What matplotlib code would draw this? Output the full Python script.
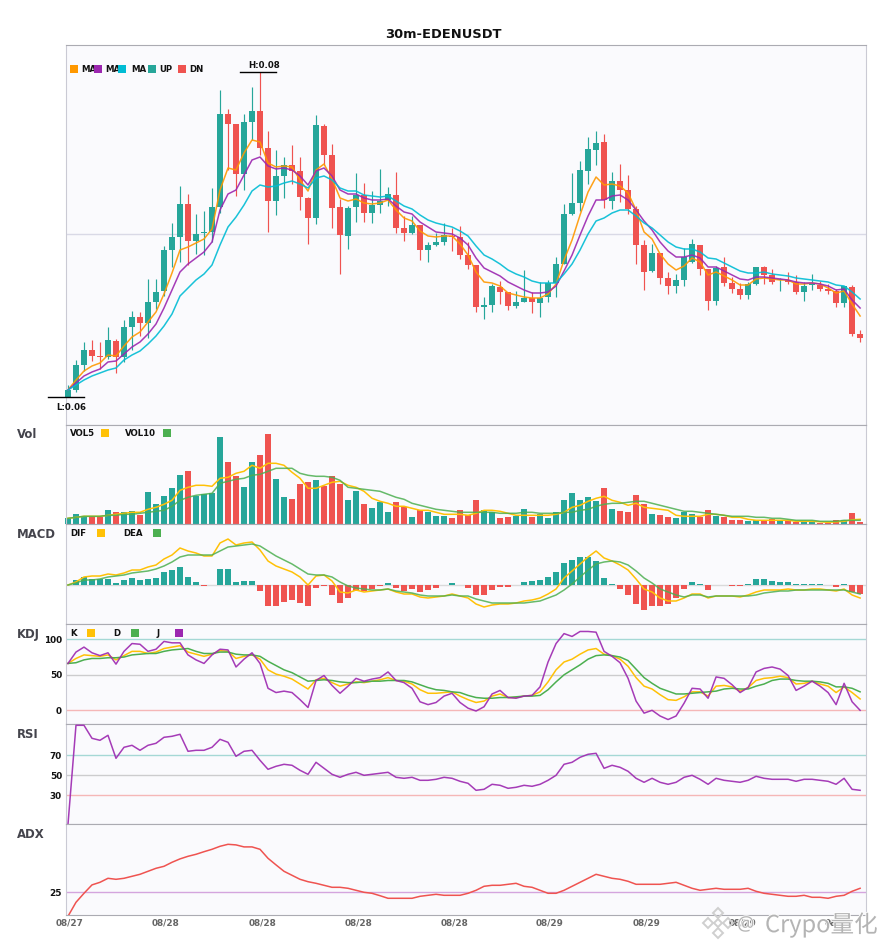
import numpy as np
import matplotlib
matplotlib.use("Agg")
import matplotlib.pyplot as plt
import matplotlib.patheffects as pe
from matplotlib.patches import Rectangle, Polygon

# Candles: the main panel has no price scale, values are relative price levels
opens = [27,34,59,74,68,67,83,67,97,107,101,122,133,174,187,220,183,191,192,217,
         310,300,250,302,313,276,223,248,259,253,226,206,298,269,217,188,217,229,211,219,
         224,229,196,191,199,174,179,182,188,187,169,159,117,119,137,132,118,122,126,121,
         127,141,160,210,221,253,274,282,223,243,234,215,179,153,171,146,138,144,162,179,
         155,123,157,141,135,129,140,157,149,144,144,142,132,139,139,135,133,121,137,90]
highs = [39,64,82,84,82,97,85,104,113,112,145,145,178,201,238,230,210,213,236,334,
         315,300,310,337,352,293,274,267,279,267,227,309,300,280,225,218,251,241,233,255,
         237,252,208,208,199,182,191,201,196,198,182,159,127,140,143,132,133,154,132,142,
         144,167,220,251,263,287,293,290,252,260,249,218,184,180,171,152,150,176,185,179,
         155,158,167,147,141,142,157,158,155,146,152,149,142,150,143,140,135,138,139,94]
lows = [27,32,53,63,55,65,51,62,74,88,86,115,128,157,162,159,170,169,182,211,
        254,228,234,284,269,192,209,226,240,214,180,200,259,196,150,175,202,202,201,211,
        218,191,183,190,164,162,178,179,173,165,155,112,105,112,120,114,116,122,111,107,
        122,127,160,209,213,240,259,216,215,222,210,160,134,152,140,130,131,138,161,149,
        114,119,138,131,125,125,139,140,140,133,140,130,123,134,133,130,117,117,88,82]
closes = [34,59,74,68,67,84,67,97,107,101,122,132,174,187,220,183,190,192,217,310,
          300,250,302,313,276,223,248,259,253,227,206,299,269,216,189,216,229,211,219,223,
          230,196,191,199,174,179,182,189,187,169,159,117,119,138,132,118,122,126,122,126,
          141,160,210,221,254,275,281,224,243,234,215,179,152,171,146,138,144,167,180,155,
          123,156,141,135,129,140,157,149,142,145,142,132,138,140,135,133,121,138,90,86]
ma5 = [34,44,53,58,61,69,68,78,87,92,102,112,130,151,174,177,181,185,195,234,
       256,254,271,284,282,261,257,258,257,244,233,254,260,245,226,223,225,221,220,221,
       224,214,206,203,193,188,187,188,188,180,169,152,142,141,138,131,129,127,126,126,
       130,140,164,184,209,232,247,239,240,238,231,214,192,185,170,160,154,158,166,162,
       149,152,148,144,139,139,145,146,145,144,144,140,140,141,140,136,131,133,120,108]
ma10 = [34,41,48,52,55,62,63,70,77,82,90,100,116,134,152,160,166,172,182,214,
        230,234,249,264,267,258,255,256,254,248,239,253,256,248,234,230,230,226,224,224,
        225,218,212,210,202,197,192,191,190,186,179,166,156,152,148,142,138,134,131,131,
        132,138,153,169,189,208,224,224,228,229,224,214,203,194,182,173,167,167,169,166,
        157,157,153,149,145,144,147,147,146,145,144,142,141,141,140,138,134,135,124,116]
ma20 = [34,39,44,48,51,54,56,64,69,73,80,88,98,110,128,136,144,150,159,179,
        197,207,219,233,239,237,238,241,243,240,236,246,248,244,236,233,233,229,228,227,
        228,223,218,215,209,204,201,199,197,193,188,178,169,165,160,154,150,147,143,141,
        141,141,150,160,174,190,203,206,211,214,214,208,201,196,189,182,177,175,175,172,
        166,165,161,157,153,151,151,152,150,149,148,146,145,144,143,142,139,138,132,125]
price_grid = 190  # the 0.07 level

volume = [6,10,8,7,7,14,12,12,13,9,32,20,28,36,49,53,28,30,31,87,
          62,48,37,62,69,90,45,27,25,40,42,44,38,48,40,24,33,20,16,22,
          12,22,17,7,14,12,8,8,6,14,9,24,14,12,6,7,8,15,7,10,
          6,12,24,31,24,27,23,36,15,13,12,29,20,10,9,7,6,12,10,7,
          14,8,7,4,4,3,4,4,5,3,4,2,2,3,1.5,1.5,4,4,11,2.5]
vol5 = [6,7,8,8,8,9,10,11,12,12,15,17,20,24,34,37,39,39,38,46,
        47,51,53,59,56,61,61,59,52,46,36,36,39,42,43,39,37,33,26,23,
        21,18,18,16,14,14,12,10,10,10,9,11,14,14,13,11,9,9,9,9,
        9,10,12,17,19,23,26,28,24,22,19,21,17,16,15,14,9,8,8,8,
        10,10,9,7,7,5,4,4,4,4,4,3,3,3,2.5,2,2.5,3,4.5,5]
vol10 = [6,7,8,8,8,9,9,10,10,11,12,13,14,18,24,27,29,30,31,41,
         43,45,46,49,50,53,56,56,56,51,49,48,48,47,44,37,36,35,34,33,
         30,27,25,21,19,17,15,14,13,12,12,12,12,12,11,11,11,12,12,11,
         11,11,12,12,14,15,18,20,21,21,22,23,23,21,19,17,15,13,13,12,
         11,10,9,8,8,8,7,7,6,6,5,4,4,4,3,3,3,4,4,4]

macd_hist = [0,5,8,6,6,6,2,5,7,5,6,7,13,15,18,8,3,-0.7,0,16,
             16,3,4,4,-6,-21,-21,-17,-15,-18,-21,-3,-1,-10,-18,-13,-6,-6,-4,-1,
             2,-3,-6,-4,-7,-5,-3,0,2,0,-3,-10,-10,-5,-2,-2,0,3,4,5,
             8,13,22,25,28,28,24,7,1,-4,-10,-19,-25,-21,-21,-19,-13,-4,3,1,
             -5,0,0,-0.8,-0.8,1,6,6,4,3,3,1,1,1,1,0,-2,1,-7,-9]
dif = [0,3,8,9,9,11,10,12,15,15,18,20,26,30,37,34,32,29,29,42,
       46,40,42,43,35,24,19,16,13,8,0,9,10,4,-7,-8,-5,-7,-6,-5,
       -4,-7,-9,-9,-12,-13,-12,-11,-9,-11,-13,-19,-22,-20,-19,-19,-18,-16,-15,-13,
       -9,-4,7,14,21,28,34,27,24,20,15,6,-4,-7,-13,-16,-16,-13,-9,-9,
       -13,-11,-11,-11,-12,-10,-7,-5,-5,-5,-4,-5,-5,-4,-4,-5,-6,-4,-10,-13]
dea = [0,2,5,5,6,8,9,10,12,13,14,16,19,23,28,30,30,30,30,34,
       38,39,40,41,39,34,29,25,21,16,11,10,10,8,3,-1,-3,-4,-5,-5,
       -4,-6,-7,-8,-10,-11,-11,-11,-10,-11,-11,-14,-16,-18,-18,-18,-18,-18,-17,-16,
       -13,-10,-5,1,8,15,21,23,24,23,20,14,7,2,-4,-7,-10,-12,-10,-10,
       -12,-11,-11,-11,-11,-11,-10,-8,-7,-6,-6,-5,-5,-5,-5,-5,-5,-5,-7,-9]

kdj_k = [66,73,78,77,76,78,71,77,83,83,80,82,87,89,91,82,79,76,79,84,
         83,73,76,78,72,57,51,48,44,37,30,43,45,39,34,37,40,39,41,43,
         46,42,41,37,29,24,24,25,26,20,15,11,13,20,23,18,18,20,21,26,
         40,57,68,72,79,85,87,79,77,72,62,46,34,30,22,15,14,19,26,26,
         20,34,35,33,27,32,42,45,46,48,46,37,38,41,37,34,25,33,25,16]
kdj_d = [66,67,71,73,73,74,74,75,78,79,80,80,83,85,86,87,83,80,80,82,
         82,79,78,78,76,69,63,57,53,47,41,42,43,42,40,39,39,40,41,41,
         42,42,42,40,36,32,29,28,26,25,21,18,17,17,18,18,19,20,20,21,
         29,40,50,57,64,72,77,78,77,75,70,58,46,38,31,27,23,23,24,25,
         26,27,30,31,30,30,34,37,42,44,44,42,41,41,40,38,33,33,31,26]
kdj_j = [66,82,89,81,77,81,65,83,94,93,83,86,97,95,95,78,71,66,78,86,
         85,61,72,81,66,31,25,27,25,15,4,42,49,35,24,34,45,41,44,46,
         54,42,39,31,12,8,11,20,24,11,3,-1,5,23,28,18,17,20,21,33,
         68,94,108,104,111,111,110,83,76,67,45,13,-4,0,-8,-13,-8,10,31,30,
         17,47,45,36,25,32,54,59,61,58,49,28,34,41,34,25,8,38,12,0]
rsi = [1,100,100,87,85,90,67,78,80,75,80,82,88,89,91,74,75,75,78,86,
       83,69,74,75,65,56,59,61,60,55,51,63,57,51,48,51,53,50,51,52,
       53,48,47,48,45,45,46,48,47,44,42,35,36,41,40,37,38,40,39,41,
       45,50,61,63,68,71,72,57,60,58,54,47,43,47,43,41,43,48,50,46,
       41,47,45,44,43,45,49,47,46,46,46,44,46,46,45,44,41,47,36,35]
adx = [13,20,24.5,28.7,30,32,31.5,32,33,34,35.5,37,38,40,41.7,43,44,45.3,46.5,48,
       49,48.7,47.7,47.7,46.5,42,38.7,35.5,33.5,31.5,30.3,29.5,28.5,27.5,27.5,27,26,25,24.5,23.3,
       22,22,22,22,23,23.5,24,23.5,23.5,23.5,24.5,26,28,28.5,28.5,29,29.5,28,27.5,26,
       24.5,24.5,26,28,30,32,34,33,32,31.5,30.5,29,29,29,29,29.5,30,28.5,27,26,
       26.5,27,26.5,26.5,26.5,27,25.5,24.5,24,23.5,23,23,23.5,22.5,22.5,22,23,23.5,25.5,27]

tick_every = 12
date_labels = ["08/27", "08/28", "08/28", "08/28", "08/28", "08/29", "08/29", "08/29", "08/29"]

UP = "#26A69A"
DN = "#EF5350"
ORANGE = "#FF9800"
PURPLE = "#9C27B0"
CYAN = "#00BCD4"
YELLOW = "#FFC107"
GREEN = "#4CAF50"
FACE = "#FAFAFD"
LW = 1.1
W, H = 885, 950

fig = plt.figure(figsize=(W / 100, H / 100), dpi=100, facecolor="white")


def make_axes(top, bottom):
    left, right = 65.5, 865.7
    ax = fig.add_axes([left / W, 1 - bottom / H, (right - left) / W, (bottom - top) / H])
    ax.set_facecolor(FACE)
    ax.set_xlim(-0.31, 99.7)
    ax.set_xticks([])
    for side in ("left", "right"):
        ax.spines[side].set_color("#CACAD4")
    for side in ("top", "bottom"):
        ax.spines[side].set_color("#ABABB2")
    ax.tick_params(axis="y", length=0, pad=2.5, labelsize=6.4, labelcolor="#111111")
    return ax


def label_px(x, y, text, **kw):
    kw.setdefault("fontsize", 6.2)
    kw.setdefault("fontweight", "bold")
    kw.setdefault("color", "#111111")
    kw.setdefault("va", "center")
    fig.text(x / W, 1 - y / H, text, zorder=5, **kw)


def swatch_px(x, y, color):
    fig.add_artist(Rectangle((x / W, 1 - (y + 8) / H), 8 / W, 8 / H, color=color,
                             transform=fig.transFigure, zorder=6, lw=0))


def set_levels(ax, levels, colors):
    ax.set_yticks(levels)
    ax.set_yticklabels([str(v) for v in levels], fontweight="bold")
    for level, color in zip(levels, colors):
        ax.axhline(level, color=color, lw=1.0, alpha=0.4, zorder=0)


x = np.arange(len(closes))
o, h, l, c = map(np.array, (opens, highs, lows, closes))
rising = c >= o
bar_colors = np.where(rising, UP, DN)

# main panel
ax_main = make_axes(45, 424.5)
ax_main.set_ylim(-0.5, 379)
ax_main.set_yticks([])
ax_main.axhline(price_grid, color="#D9D9E6", lw=1.0, zorder=0)
ax_main.vlines(x, l, h, colors=bar_colors, lw=0.85, zorder=2)
ax_main.bar(x, np.maximum(np.abs(c - o), 0.8), bottom=np.minimum(o, c), width=0.74,
            color=bar_colors, zorder=3, clip_on=False)
for series, color in ((ma5, ORANGE), (ma10, PURPLE), (ma20, CYAN)):
    ax_main.plot(x, series, color=color, lw=LW, alpha=0.9, zorder=4)

i_high, i_low = int(np.argmax(h)), int(np.argmin(l))
ax_main.plot([i_high - 2.5, i_high + 2], [h[i_high]] * 2, color="black", lw=1.0, clip_on=False, zorder=5)
ax_main.plot([i_low - 2.5, i_low + 2], [l[i_low]] * 2, color="black", lw=1.0, clip_on=False, zorder=5)
label_px(264.5, 65, "H:0.08", ha="center")
label_px(71.5, 407, "L:0.06", ha="center")
fig.text(443 / W, 1 - 34 / H, "30m-EDENUSDT", ha="center", va="center", fontsize=9.4,
         fontweight="bold", color="#111111")

for sx, color in ((70, ORANGE), (94, PURPLE), (118, CYAN), (148, UP), (178, DN)):
    swatch_px(sx, 65, color)
for tx, text in ((81, "MA"), (105, "MA"), (131, "MA"), (159, "UP"), (189, "DN")):
    label_px(tx, 69, text)

# volume
ax_vol = make_axes(424.5, 524.3)
ax_vol.set_ylim(0, 99.8)
ax_vol.set_yticks([])
ax_vol.bar(x, volume, width=0.74, color=bar_colors, zorder=2, clip_on=False)
ax_vol.plot(x, vol5, color=YELLOW, lw=LW, zorder=3)
ax_vol.plot(x, vol10, color=GREEN, lw=LW, alpha=0.85, zorder=4)
label_px(70, 434, "VOL5")
swatch_px(101, 429, YELLOW)
label_px(125, 434, "VOL10")
swatch_px(163, 429, GREEN)

# macd
ax_macd = make_axes(524.3, 624.3)
ax_macd.set_ylim(-39.3, 60.7)
ax_macd.set_yticks([])
ax_macd.axhline(0, color="#DADADA", lw=1.0, zorder=0)
hist = np.array(macd_hist)
ax_macd.bar(x, hist, width=0.74, color=np.where(hist >= 0, UP, DN), zorder=2)
ax_macd.plot(x, dif, color=YELLOW, lw=LW, zorder=3)
ax_macd.plot(x, dea, color=GREEN, lw=LW, alpha=0.85, zorder=4)
label_px(70, 534, "DIF")
swatch_px(97, 529, YELLOW)
label_px(123, 534, "DEA")
swatch_px(153, 529, GREEN)

# kdj
ax_kdj = make_axes(624.3, 724.3)
ax_kdj.set_ylim(-19.7, 121.1)
set_levels(ax_kdj, [0, 50, 100], ["#EF5350", "#888888", UP])
ax_kdj.plot(x, kdj_k, color=YELLOW, lw=LW, zorder=3)
ax_kdj.plot(x, kdj_d, color=GREEN, lw=LW, zorder=3)
ax_kdj.plot(x, kdj_j, color=PURPLE, lw=LW, alpha=0.9, zorder=4)
label_px(70, 634, "K")
swatch_px(87, 629, YELLOW)
label_px(113, 634, "D")
swatch_px(131, 629, GREEN)
label_px(157, 634, "J")
swatch_px(175, 629, PURPLE)

# rsi
ax_rsi = make_axes(724.3, 824.3)
ax_rsi.set_ylim(1, 101)
set_levels(ax_rsi, [30, 50, 70], ["#EF5350", "#888888", UP])
ax_rsi.plot(x, rsi, color=PURPLE, lw=LW, alpha=0.9, zorder=4)

# adx
ax_adx = make_axes(824.3, 915.3)
ax_adx.set_ylim(13.5, 59)
set_levels(ax_adx, [25], [PURPLE])
ax_adx.plot(x, adx, color=DN, lw=LW, zorder=4)
ax_adx.set_xticks(x[::tick_every] + 0.25)
ax_adx.set_xticklabels(date_labels, fontsize=6.4, fontweight="bold", color="#666666")
ax_adx.tick_params(axis="x", length=0, pad=2.5)

for name, y_px in (("Vol", 434.5), ("MACD", 534.5), ("KDJ", 634.5), ("RSI", 734.5), ("ADX", 834.5)):
    label_px(17, y_px, name, fontsize=8.4, color="#44444C")

# watermark, bottom right
halo = [pe.withStroke(linewidth=1.2, foreground="white")]
fig.text(737 / W, 1 - 925 / H, "@", fontsize=14, color="#B4B4B4", va="center",
         family=["Noto Sans", "DejaVu Sans"], zorder=7, path_effects=halo)
fig.text(765 / W, 1 - 925 / H, "Crypo量化", fontsize=17, color="#B4B4B4", va="center",
         family=["Noto Sans CJK SC", "DejaVu Sans"], zorder=7, path_effects=halo)
for cx, cy, r in ((718, 913, 5), (708, 923, 5), (728, 923, 5), (718, 933, 5), (718, 923, 4)):
    points = [(cx, cy - r), (cx + r, cy), (cx, cy + r), (cx - r, cy)]
    fig.add_artist(Polygon([(px / W, 1 - py / H) for px, py in points], closed=True, fill=False,
                           edgecolor="#CFCFCF", lw=1.4, transform=fig.transFigure, zorder=7))

fig.savefig("out.png", dpi=100)
